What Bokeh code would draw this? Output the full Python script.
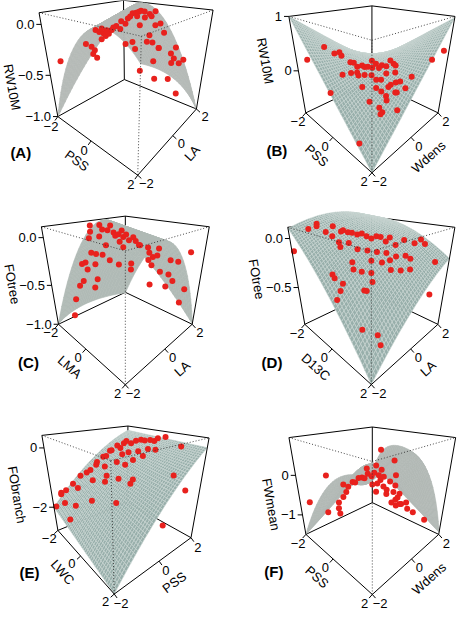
import numpy as np
from bokeh.plotting import figure
from bokeh.models import Range1d
from bokeh.embed import file_html
from bokeh.resources import INLINE
from bokeh.core.properties import value

# ---------------------------------------------------------------- data
panel_tags = ["(A)", "(B)", "(C)", "(D)", "(E)", "(F)"]
x_names = ["PSS", "PSS", "LMA", "D13C", "LWC", "PSS"]
y_names = ["LA", "Wdens", "LA", "LA", "PSS", "Wdens"]
z_names = ["RW10M", "RW10M", "FOtree", "FOtree", "FObranch", "FWmean"]
xy_ticks = [-2, 0, 2]
xy_tick_labels = ["\u22122", "0", "2"]
z_ticks = [[-1.0, -0.5, 0.0], [0, 1], [-1.0, -0.5, 0.0], [-0.5, 0.0], [-2, 0], [-1, 0]]
z_tick_labels = [["\u22121.0", "\u22120.5", "0.0"], ["0", "1"], ["\u22121.0", "\u22120.5", "0.0"],
                 ["\u22120.5", "0.0"], ["\u22122", "0"], ["\u22121", "0"]]
z_limits = [(-1.0, 0.1), (-0.97, 1.0), (-1.0, 0.1), (-0.96, 0.1), (-2.95, 0.36), (-1.57, 0.8)]

# fitted response surfaces (A-E): z = b0 + b1*x + b2*y + b11*x^2 + b22*y^2 + b12*x*y
surf_A = [0.095, 0.0, 0.0, -0.1308, -0.0265, -0.1178]
surf_B = [0.1525, -0.0738, 0.0688, 0.0, 0.0, 0.2094]
surf_C = [0.09, 0.0, 0.0, -0.0178, -0.15, -0.1033]
surf_D = [-0.05, -0.1675, 0.0975, -0.0238, -0.0238, 0.0475]
surf_E = [-0.8625, -0.1313, 0.6563, 0.0, -0.075, 0.0531]
# surface (F) read on a 5 x 5 grid (rows PSS = -2..2, columns Wdens = -2..2)
F_grid = [-2, -1, 0, 1, 2]
F_grid_z = [
    [-1.57, -0.65, -0.35, -0.45, -0.55],
    [-0.98, -0.45, -0.35, -0.45, 0.35],
    [-0.385, -0.05, 0.00, 0.15, 0.40],
    [0.21, 0.40, 0.05, 0.10, 0.05],
    [0.80, 0.22, -0.35, -0.93, -1.50],
]

# observations
A_x = [-1.57,-0.68,-0.81,-0.55,-0.58,-0.50,-0.66,-0.40,-0.45,-0.22,-0.23,0.01,-0.10,0.10,0.04,0.20,0.16,0.10,0.28,0.55,0.12,0.44,0.49,0.71,0.30,0.70,0.93,0.45,0.66,0.40,-0.01,0.04,0.24,-0.95,-1.00,-0.73,-0.95,-0.71,0.37,0.58,0.81,0.70,1.13,1.15,1.16,1.11,1.47,1.27,0.74,1.01,1.37,-0.47,-0.56,-0.15,0.54]
A_y = [-1.77,-0.88,-0.61,-0.65,-0.48,-0.80,-0.46,-0.56,-0.29,-0.38,-0.13,-0.19,0.06,-0.06,0.14,0.12,0.32,0.52,0.48,0.39,0.28,0.28,0.59,0.51,0.20,0.84,0.73,0.57,0.46,0.50,-0.17,0.14,0.04,-1.11,-0.84,-0.93,-0.83,-0.87,0.17,0.70,0.65,0.82,0.97,1.27,1.00,1.27,1.31,1.39,0.58,1.13,1.21,-0.35,-0.72,-0.27,0.74]
A_z = [-0.34,-0.05,-0.09,-0.09,-0.07,-0.13,-0.13,-0.09,-0.05,-0.02,0.01,0.00,0.03,0.06,0.08,0.09,0.09,0.09,0.09,0.08,0.05,0.05,0.05,-0.02,-0.02,-0.02,-0.09,-0.13,-0.18,-0.19,-0.19,-0.19,-0.24,-0.18,-0.23,-0.24,-0.30,-0.32,-0.47,-0.40,-0.24,-0.26,-0.30,-0.26,-0.40,-0.38,-0.37,-0.43,-0.57,-0.61,-0.76,-0.07,-0.04,-0.05,0.09]

B_x = [-1.58,-1.33,-0.92,-0.99,-0.80,-0.44,-0.54,-0.31,-0.37,-0.09,-0.19,0.06,-0.01,0.19,0.38,0.34,0.65,0.55,-0.69,-0.66,-0.35,-0.50,-0.20,0.11,0.07,0.33,0.30,0.62,0.60,0.83,-0.40,0.12,0.38,0.42,0.78,0.87,0.50,0.60,-0.02,0.32,0.22,0.86,0.50,0.45,-1.25,1.00,1.02,1.66,1.82,0.68,-0.12,0.49]
B_y = [-1.78,-1.17,-1.02,-0.75,-0.80,-0.68,-0.44,-0.47,-0.17,-0.29,-0.03,-0.04,0.23,0.19,0.14,0.44,0.49,0.75,-0.89,-0.50,-0.45,-0.26,-0.20,-0.13,0.17,0.17,0.50,0.42,0.76,0.73,-0.16,0.12,0.14,0.52,0.62,1.07,0.30,0.76,-0.12,0.56,0.22,0.62,0.10,0.05,-1.15,-1.60,1.22,1.46,1.98,0.58,0.12,0.49]
B_z = [0.25,0.45,0.36,0.34,0.30,0.21,0.15,0.11,0.08,0.11,0.06,0.08,0.11,0.06,0.15,0.08,0.17,0.08,-0.05,-0.07,-0.02,-0.14,-0.09,-0.05,-0.21,-0.16,-0.09,-0.26,-0.28,-0.21,-0.40,-0.37,-0.40,-0.37,-0.44,-0.42,-0.51,-0.51,-0.67,-0.72,-0.84,-0.84,-0.85,-0.90,-0.51,-0.90,-0.16,0.25,0.38,-0.02,0.17,0.21]

C_x = [-0.90,-0.55,-0.50,-0.56,-0.85,-0.50,-0.95,-0.20,-0.35,-0.06,-0.17,0.00,-0.10,-0.14,0.07,0.04,0.27,0.16,0.43,0.29,0.61,0.50,0.70,0.91,0.80,0.66,0.59,0.99,1.08,1.30,1.07,1.36,1.18,1.58,1.57,0.57,1.72,-0.57,-0.52,-1.00,-0.74,-0.88,-1.18,-0.89,-0.89,-0.29,-0.25,0.20,0.03,-0.74,-0.68,-1.18,-1.13,-1.51,-1.34,-1.05]
C_y = [-0.40,-0.20,-0.60,-0.32,-0.85,-0.74,-0.85,-0.36,-0.15,-0.26,-0.01,-0.10,0.14,-0.14,-0.17,0.14,0.11,0.36,0.23,0.45,0.51,0.74,0.70,0.67,0.90,0.50,0.79,0.79,1.24,1.20,1.31,1.36,0.94,1.68,1.41,0.77,1.52,-0.41,-0.62,-0.76,-0.74,-1.12,-1.08,-1.05,-0.69,-0.49,-0.09,0.10,0.27,-0.74,-0.92,-1.08,-1.29,-1.31,-1.54,-0.70]
C_z = [0.10,0.10,0.08,0.06,0.055,0.02,-0.01,0.055,0.01,0.04,0.06,0.01,0.02,-0.04,-0.08,-0.03,0.01,-0.04,-0.06,-0.08,-0.09,-0.16,-0.19,-0.16,-0.11,-0.21,-0.29,-0.33,-0.39,-0.44,-0.24,-0.24,-0.49,-0.555,-0.69,-0.51,-0.13,-0.08,-0.16,-0.16,-0.16,-0.23,-0.27,-0.31,-0.28,-0.21,-0.28,-0.25,-0.34,-0.43,-0.50,-0.46,-0.49,-0.69,-0.85,0.10]

D_x = [-2.00,-1.62,-1.50,-1.25,-1.10,-0.81,-0.79,-0.59,-0.68,-0.36,-0.43,-0.18,-0.24,0.00,0.24,0.18,0.43,0.36,0.69,0.74,1.11,1.13,1.33,-1.95,-0.86,-0.68,-0.67,-0.24,-0.18,0.19,0.27,0.63,0.97,0.96,0.35,0.39,0.10,-0.58,-0.20,-0.60,0.00,0.62,0.73,1.08,1.58,-0.91,-1.08,0.08,-0.91,-0.85,-0.07,-0.18,-0.87,1.55,0.20,0.75,1.14]
D_y = [-0.90,-1.46,-1.20,-1.01,-0.80,-1.05,-0.69,-0.75,-0.48,-0.56,-0.27,-0.28,0.00,0.00,0.00,0.28,0.27,0.56,0.49,0.90,1.01,1.37,1.33,-1.95,-0.76,-0.84,-0.47,-0.44,-0.02,0.09,0.51,0.63,0.73,1.06,0.19,0.59,-0.10,-0.42,-0.30,-0.36,0.00,0.38,0.83,0.92,1.78,-1.11,-0.92,-0.02,-0.67,-0.85,-0.31,-0.08,-1.03,1.75,-0.70,-0.40,-0.66]
D_z = [0.10,0.08,0.10,0.05,0.10,0.03,0.06,0.08,0.05,0.06,0.03,0.05,0.01,0.00,0.03,0.01,-0.02,0.00,-0.05,-0.02,-0.04,-0.02,-0.05,-0.12,-0.04,-0.07,-0.05,-0.09,-0.12,-0.12,-0.15,-0.17,-0.15,-0.20,-0.22,-0.22,-0.20,-0.24,-0.32,-0.32,-0.34,-0.29,-0.32,-0.29,-0.24,-0.34,-0.41,-0.43,-0.48,-0.54,-0.51,-0.55,-0.63,-0.60,-0.90,-0.93,-0.95]

E_x = [-2.00,-1.84,-1.58,-1.73,-1.72,-1.40,-1.42,-1.12,-1.48,-0.99,-1.05,-0.78,-0.83,-0.80,-0.51,-0.55,-0.32,-0.43,-0.16,-0.22,0.00,-0.10,0.09,0.33,0.27,0.52,0.43,0.75,0.68,0.88,0.90,-0.46,-0.28,-0.53,-0.06,-0.12,0.17,0.06,0.31,0.26,0.50,0.73,0.75,-0.02,0.10,0.37,-0.27,-0.80,1.20,1.64,1.49,1.11]
E_y = [-1.90,-1.68,-1.68,-1.49,-1.72,-1.64,-1.32,-1.28,-1.28,-1.19,-0.89,-0.88,-0.59,-0.80,-0.75,-0.45,-0.48,-0.23,-0.36,-0.06,-0.10,0.14,0.09,0.09,0.37,0.36,0.63,0.55,0.84,0.78,1.15,-0.46,-0.52,-0.43,-0.22,0.08,-0.03,0.22,0.21,0.50,0.50,0.49,0.85,-0.18,0.30,0.17,-0.11,-0.90,1.44,1.64,1.25,1.21]
E_z = [-2.00,-1.55,-1.79,-2.55,-1.45,-1.28,-1.14,-1.21,-1.97,-0.79,-0.76,-0.62,-0.52,-0.97,-0.34,-0.24,-0.17,-0.07,0.00,0.09,0.06,0.15,0.24,0.21,0.24,0.30,0.24,0.30,0.24,0.34,0.34,-0.52,-0.76,-1.03,-0.34,-0.17,-0.41,-0.10,-0.28,-0.07,-0.17,0.06,0.00,-0.86,-1.10,-0.86,-1.79,-1.66,-0.79,-1.21,0.15,-2.55]

F_x = [-1.60,-1.31,-1.19,-1.07,-0.94,-0.77,-0.83,-0.70,-0.82,-0.53,-0.61,-0.40,-0.49,-0.27,-0.08,-0.17,-0.06,-0.12,0.15,0.02,0.22,0.10,0.24,0.33,0.25,0.46,0.38,0.66,0.49,0.66,0.51,0.74,0.74,0.65,0.87,0.57,1.02,0.92,1.19,1.42,0.30,0.25,-0.05,0.18,0.29,0.62,0.69]
F_y = [-1.80,-1.15,-1.29,-0.83,-0.94,-1.01,-0.73,-0.86,-0.62,-0.73,-0.45,-0.50,-0.25,-0.27,-0.32,-0.07,-0.22,0.08,-0.05,0.18,0.12,0.34,0.24,0.09,0.35,0.30,0.58,0.46,0.65,0.56,0.75,0.74,0.50,0.75,0.71,0.77,0.82,1.08,1.09,1.66,0.30,0.01,0.05,0.02,0.49,0.42,0.85]
F_z = [-0.615,-0.03,-0.90,-0.72,-0.82,-0.90,-0.23,-0.49,-0.44,-0.23,-0.18,-0.15,-0.10,-0.05,-0.03,0.02,0.18,-0.05,0.09,0.20,0.02,-0.15,0.13,0.58,-0.28,-0.31,-0.18,-0.36,0.31,0.02,-0.28,-0.44,-0.54,-0.56,-0.67,-0.79,-0.62,-0.87,-0.90,-1.20,-0.03,-0.15,-0.23,-0.36,-0.49,-0.62,-0.74]

points = [(A_x, A_y, A_z), (B_x, B_y, B_z), (C_x, C_y, C_z),
          (D_x, D_y, D_z), (E_x, E_y, E_z), (F_x, F_y, F_z)]


def quad_basis(x, y):
    return np.stack([np.ones_like(x), x, y, x * x, y * y, x * y], -1)


def tensor_basis(x, y, deg=4):
    return np.stack([x ** i * y ** j for i in range(deg + 1) for j in range(deg + 1)], -1)


# smooth surface through the heights read for panel F
_gx, _gy = np.meshgrid(np.array(F_grid, float), np.array(F_grid, float), indexing="ij")
coef_F = np.linalg.lstsq(tensor_basis(_gx.ravel(), _gy.ravel()), np.array(F_grid_z).ravel(), rcond=None)[0]

surface_fns = [
    (lambda x, y, c=surf_A: quad_basis(x, y) @ np.array(c)),
    (lambda x, y, c=surf_B: quad_basis(x, y) @ np.array(c)),
    (lambda x, y, c=surf_C: quad_basis(x, y) @ np.array(c)),
    (lambda x, y, c=surf_D: quad_basis(x, y) @ np.array(c)),
    (lambda x, y, c=surf_E: quad_basis(x, y) @ np.array(c)),
    (lambda x, y: tensor_basis(x, y) @ coef_F),
]

# ---------------------------------------------------------------- layout / style
REF_W, REF_H = 474, 630
layouts = [
    dict(theta=40, phi=25, TL=(40, 13), TR=(220, 10), BL=(59, 117), BR=(203, 112), BF=(142, 180), tag=(21, 156), zt=(12, 89)),
    dict(theta=45, phi=25, TL=(296, 18), TR=(472, 17), BL=(317, 113), BR=(452, 115), BF=(385, 177), tag=(286, 154), zt=(274, 62)),
    dict(theta=45, phi=25, TL=(41, 233), TR=(218, 233), BL=(61, 330), BR=(197, 332), BF=(129, 395), tag=(29, 371), zt=(12, 291)),
    dict(theta=45, phi=25, TL=(296, 233), TR=(470, 232), BL=(317, 332), BR=(452, 332), BF=(384, 395), tag=(281, 371), zt=(265, 286)),
    dict(theta=50, phi=25, TL=(42, 448), TR=(216, 448), BL=(60, 542), BR=(197, 551), BF=(118, 610), tag=(30, 587), zt=(17, 507)),
    dict(theta=45, phi=25, TL=(296, 450), TR=(472, 450), BL=(317, 545), BR=(454, 547), BF=(385, 610), tag=(283, 586), zt=(280, 517)),
]
mesh_cells = [30, 44, 30, 44, 44, 36]
surf_fill = ["#b5bab7", "#98afab", "#b0bab6", "#98afab", "#98afab", "#b2b9b5"]
surf_line = ["#b5bab7", "#cbd6d4", "#b0bab6", "#cbd6d4", "#cbd6d4", "#b2b9b5"]
RED = "#e8211d"
FONT = value("Liberation Sans")


def view_matrix(theta, phi, r=np.sqrt(3.0), d=1.0):
    def rx(a):
        c, s = np.cos(np.radians(a)), np.sin(np.radians(a))
        T = np.eye(4); T[1, 1] = c; T[2, 1] = -s; T[2, 2] = c; T[1, 2] = s
        return T

    def ry(a):
        c, s = np.cos(np.radians(a)), np.sin(np.radians(a))
        T = np.eye(4); T[0, 0] = c; T[2, 0] = s; T[2, 2] = c; T[0, 2] = -s
        return T

    Tt = np.eye(4); Tt[3, 2] = -r - d
    Tp = np.eye(4); Tp[2, 3] = -1.0 / d
    return rx(-90) @ ry(-theta) @ rx(phi) @ Tt @ Tp


p = figure(width=458, height=614, x_range=Range1d(0, REF_W), y_range=Range1d(0, REF_H),
           output_backend="svg", toolbar_location=None, min_border=0,
           x_axis_location=None, y_axis_location=None)
p.grid.visible = False
p.outline_line_color = None
p.background_fill_color = "white"
p.border_fill_color = "white"

for k in range(6):
    lay = layouts[k]
    VT = view_matrix(lay["theta"], lay["phi"])
    zmin, zmax = z_limits[k]

    def zn_of(z, zmin=zmin, zmax=zmax):
        return 2.0 * (np.asarray(z, dtype=float) - zmin) / (zmax - zmin) - 1.0

    def raw(u, w, zn, VT=VT):
        u, w, zn = np.broadcast_arrays(np.asarray(u, float), np.asarray(w, float), np.asarray(zn, float))
        P = np.stack([u, w, zn, np.ones_like(u)], -1) @ VT
        return P[..., 0] / P[..., 3], P[..., 1] / P[..., 3], P[..., 2]

    corner = {"TL": (-1, -1, 1), "TR": (1, 1, 1), "BL": (-1, -1, -1), "BR": (1, 1, -1), "BF": (1, -1, -1)}
    names = ["TL", "TR", "BL", "BR", "BF"]
    src = np.array([[float(v) for v in raw(*corner[n])[:2]] for n in names])
    dst = np.array([[lay[n][0], REF_H - lay[n][1]] for n in names], dtype=float)
    sc = src - src.mean(0)
    dc = dst - dst.mean(0)
    s = (sc * dc).sum() / (sc * sc).sum()
    off = dst.mean(0) - s * src.mean(0)

    def proj(u, w, zn, s=s, off=off, raw=raw):
        X, Y, D = raw(u, w, zn)
        return s * X + off[0], s * Y + off[1], D

    def P2(u, w, zn):
        X, Y, _ = proj(u, w, zn)
        return float(X), float(Y)

    # ---- back box edges (behind the surface)
    back = [((-1, 1, -1), (-1, 1, 1)), ((-1, -1, -1), (-1, 1, -1)), ((-1, 1, -1), (1, 1, -1)),
            ((-1, -1, 1), (-1, 1, 1)), ((-1, 1, 1), (1, 1, 1))]
    bx0, by0, bx1, by1 = [], [], [], []
    for a, b in back:
        xa, ya = P2(*a); xb, yb = P2(*b)
        bx0.append(xa); by0.append(ya); bx1.append(xb); by1.append(yb)
    p.segment(x0=bx0, y0=by0, x1=bx1, y1=by1, line_color="black", line_width=1)

    # ---- surface
    n = mesh_cells[k]
    g = np.linspace(-2, 2, n + 1)
    GX, GY = np.meshgrid(g, g, indexing="ij")
    GZ = surface_fns[k](GX, GY)
    X, Y, D = proj(GX / 2.0, GY / 2.0, zn_of(GZ))
    Xc = np.stack([X[:-1, :-1], X[1:, :-1], X[1:, 1:], X[:-1, 1:]], -1).reshape(-1, 4)
    Yc = np.stack([Y[:-1, :-1], Y[1:, :-1], Y[1:, 1:], Y[:-1, 1:]], -1).reshape(-1, 4)
    Dc = np.stack([D[:-1, :-1], D[1:, :-1], D[1:, 1:], D[:-1, 1:]], -1).reshape(-1, 4).mean(1)
    order = np.argsort(Dc)
    p.patches(xs=Xc[order].tolist(), ys=Yc[order].tolist(), fill_color=surf_fill[k],
              line_color=surf_line[k], line_width=0.6)

    # ---- observations
    px, py, pz = points[k]
    X, Y, _ = proj(np.array(px) / 2.0, np.array(py) / 2.0, zn_of(pz))
    p.scatter(x=X.tolist(), y=Y.tolist(), size=6, fill_color=RED, line_color=None)

    # ---- front box edges
    dotted = [((1, -1, -1), (1, -1, 1)), ((-1, -1, 1), (1, -1, 1)), ((1, -1, 1), (1, 1, 1))]
    dx0, dy0, dx1, dy1 = [], [], [], []
    for a, b2 in dotted:
        xa, ya = P2(*a); xb, yb = P2(*b2)
        dx0.append(xa); dy0.append(ya); dx1.append(xb); dy1.append(yb)
    p.segment(x0=dx0, y0=dy0, x1=dx1, y1=dy1, line_color="#333333", line_width=0.9, line_dash="1 2")

    solid = [((-1, -1, -1), (1, -1, -1)), ((1, -1, -1), (1, 1, -1)),
             ((-1, -1, -1), (-1, -1, 1)), ((1, 1, -1), (1, 1, 1))]
    sx0, sy0, sx1, sy1 = [], [], [], []
    for a, b2 in solid:
        xa, ya = P2(*a); xb, yb = P2(*b2)
        sx0.append(xa); sy0.append(ya); sx1.append(xb); sy1.append(yb)

    # ---- axes: ticks and labels
    tx0, ty0, tx1, ty1 = [], [], [], []
    lab_x, lab_y, lab_t = [], [], []
    zr_x, zr_y, zr_t = [], [], []
    for t, lab in zip(z_ticks[k], z_tick_labels[k]):
        xa, ya = P2(-1, -1, float(zn_of(t)))
        tx0.append(xa); ty0.append(ya); tx1.append(xa - 5); ty1.append(ya)
        zr_x.append(xa - 7); zr_y.append(ya); zr_t.append(lab)

    def outward(a, b2):
        xa, ya = P2(*a); xb, yb = P2(*b2)
        ex, ey = xb - xa, yb - ya
        L = np.hypot(ex, ey)
        ex, ey = ex / L, ey / L
        nx, ny = ey, -ex
        if ny > 0:
            nx, ny = -nx, -ny
        return nx, ny, np.arctan2(ey, ex)

    title_x, title_y, title_t, title_a = [], [], [], []
    nx, ny, ang = outward((-1, -1, -1), (1, -1, -1))
    for t, lab in zip(xy_ticks, xy_tick_labels):
        xa, ya = P2(t / 2.0, -1, -1)
        tx0.append(xa); ty0.append(ya); tx1.append(xa + 5 * nx); ty1.append(ya + 5 * ny)
        lab_x.append(xa + 12 * nx); lab_y.append(ya + 12 * ny); lab_t.append(lab)
    xa, ya = P2(0, -1, -1)
    title_x.append(xa + 25 * nx); title_y.append(ya + 25 * ny); title_t.append(x_names[k]); title_a.append(ang)
    nx, ny, ang = outward((1, -1, -1), (1, 1, -1))
    for t, lab in zip(xy_ticks, xy_tick_labels):
        xa, ya = P2(1, t / 2.0, -1)
        tx0.append(xa); ty0.append(ya); tx1.append(xa + 5 * nx); ty1.append(ya + 5 * ny)
        lab_x.append(xa + 12 * nx); lab_y.append(ya + 12 * ny); lab_t.append(lab)
    xa, ya = P2(1, 0, -1)
    title_x.append(xa + 27 * nx); title_y.append(ya + 27 * ny); title_t.append(y_names[k]); title_a.append(ang)
    xt, yt = P2(-1, -1, 1); xb_, yb_ = P2(-1, -1, -1)
    zang = np.arctan2(yb_ - yt, xb_ - xt)
    title_x.append(lay["zt"][0]); title_y.append(REF_H - lay["zt"][1]); title_t.append(z_names[k]); title_a.append(zang)

    p.segment(x0=sx0 + tx0, y0=sy0 + ty0, x1=sx1 + tx1, y1=sy1 + ty1, line_color="black", line_width=1)
    p.text(x=zr_x, y=zr_y, text=zr_t, text_font=FONT, text_font_size="13px",
           text_align="right", text_baseline="middle", text_color="black")
    p.text(x=lab_x, y=lab_y, text=lab_t, text_font=FONT, text_font_size="13px",
           text_align="center", text_baseline="middle", text_color="black")
    p.text(x=title_x, y=title_y, text=title_t, angle=title_a, text_font=FONT, text_font_size="13px",
           text_align="center", text_baseline="middle", text_color="black")
    tx, ty = lay["tag"]
    p.text(x=[tx], y=[REF_H - ty], text=[panel_tags[k]], text_font=FONT, text_font_size="15px",
           text_font_style="bold", text_align="center", text_baseline="middle", text_color="black")

open("out.html", "w").write(file_html(p, INLINE))
